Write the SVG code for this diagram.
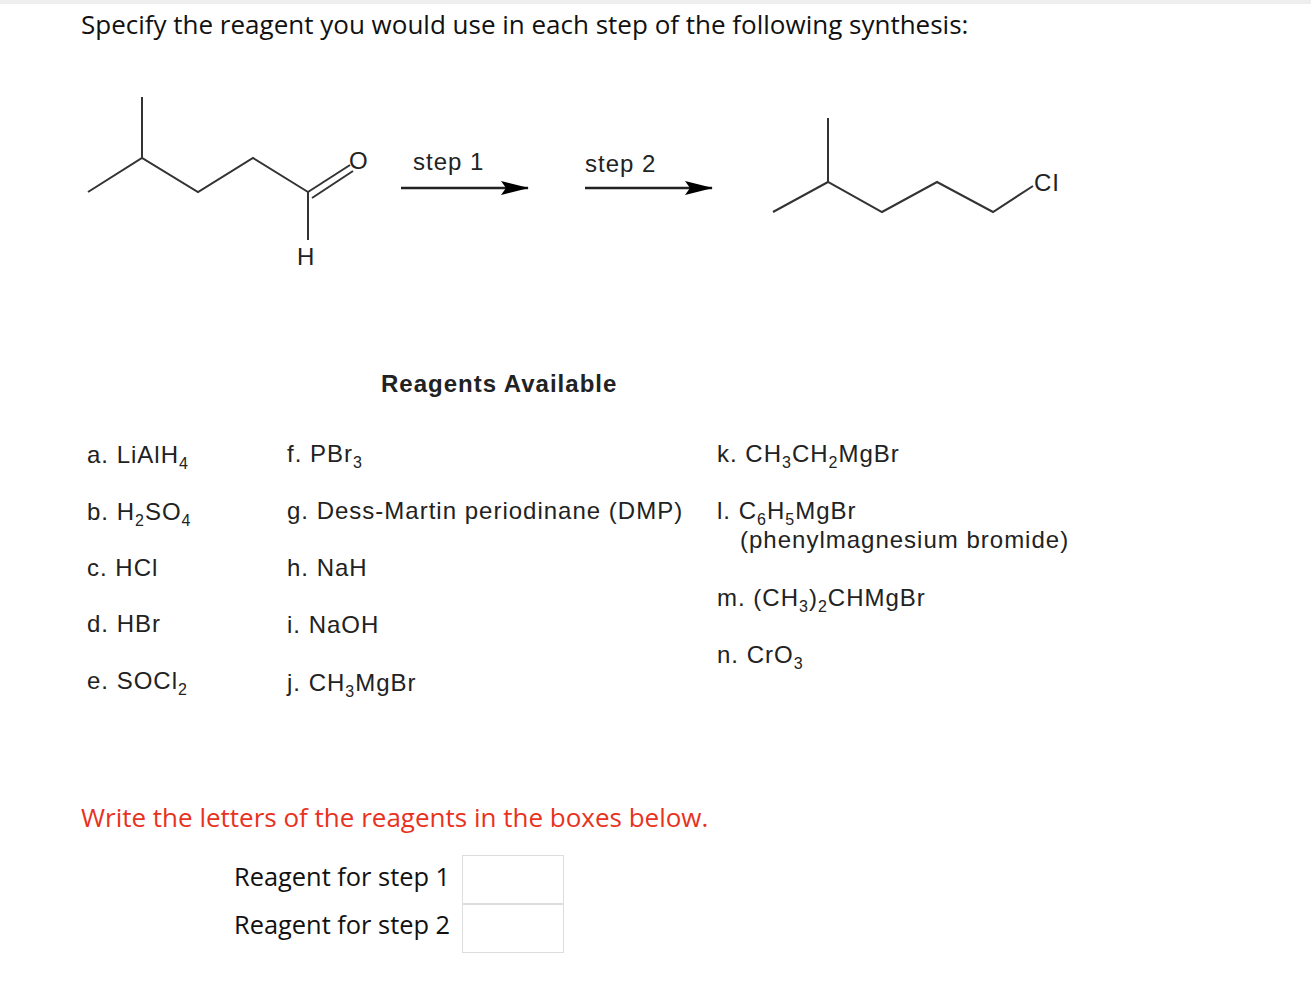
<svg xmlns="http://www.w3.org/2000/svg" width="1311" height="997" viewBox="0 0 1311 997">
<defs>
<marker id="a2" markerWidth="28" markerHeight="14" refX="27" refY="7" orient="auto" markerUnits="userSpaceOnUse"><path d="M0,0 L28,7 L0,14 L5,7 Z" fill="#000"/></marker></defs>
<style>
.o{font-family:"Open Sans",sans-serif;font-size:26px;fill:#111}
.r{font-family:"Liberation Sans",Arial,sans-serif;font-size:24px;fill:#222;letter-spacing:1px}
.s{font-size:16px}
.b{stroke:#333;stroke-width:2;fill:none}
</style>
<rect width="1311" height="997" fill="#fff"/>
<rect width="1311" height="4" fill="#eee"/>
<text class="o" x="81" y="34">Specify the reagent you would use in each step of the following synthesis:</text>
<g id="reactant">
<polyline class="b" points="88,192 142,158 198,192 253,158 308,192"/>
<line class="b" x1="142" y1="158" x2="142" y2="97"/>
<line class="b" x1="308" y1="192" x2="350" y2="165"/>
<line class="b" x1="312" y1="198" x2="353" y2="171"/>
<line class="b" x1="308" y1="192" x2="308" y2="240"/>
<text class="r" x="349" y="169" font-size="26" letter-spacing="0">O</text>
<text class="r" x="297" y="265" font-size="24" letter-spacing="0">H</text>
</g>
<g id="connectors">
<line x1="401" y1="188" x2="528" y2="188" stroke="#222" stroke-width="2.5" marker-end="url(#a2)"/>
<line x1="585" y1="188" x2="712" y2="188" stroke="#222" stroke-width="2.5" marker-end="url(#a2)"/>
</g>
<text class="r" x="413" y="170" font-size="29">step 1</text>
<text class="r" x="585" y="172" font-size="29">step 2</text>
<g id="product">
<polyline class="b" points="773,212 828,182 882,212 937,182 993,212 1033,186"/>
<line class="b" x1="828" y1="182" x2="828" y2="118"/>
<text class="r" x="1034" y="191" font-size="24" letter-spacing="0">CI</text>
</g>
<text class="r" x="381" y="392" font-weight="bold">Reagents Available</text>
<g class="r">
<text x="87" y="463">a. LiAlH<tspan class="s" dy="6">4</tspan></text>
<text x="87" y="520">b. H<tspan class="s" dy="6">2</tspan><tspan dy="-6">SO</tspan><tspan class="s" dy="6">4</tspan></text>
<text x="87" y="576">c. HCl</text>
<text x="87" y="632">d. HBr</text>
<text x="87" y="689">e. SOCl<tspan class="s" dy="6">2</tspan></text>
<text x="287" y="462">f. PBr<tspan class="s" dy="6">3</tspan></text>
<text x="287" y="519">g. Dess-Martin periodinane (DMP)</text>
<text x="287" y="576">h. NaH</text>
<text x="287" y="633">i. NaOH</text>
<text x="287" y="691">j. CH<tspan class="s" dy="6">3</tspan><tspan dy="-6">MgBr</tspan></text>
<text x="717" y="462">k. CH<tspan class="s" dy="6">3</tspan><tspan dy="-6">CH</tspan><tspan class="s" dy="6">2</tspan><tspan dy="-6">MgBr</tspan></text>
<text x="717" y="519">l. C<tspan class="s" dy="6">6</tspan><tspan dy="-6">H</tspan><tspan class="s" dy="6">5</tspan><tspan dy="-6">MgBr</tspan></text>
<text x="740" y="548">(phenylmagnesium bromide)</text>
<text x="717" y="606">m. (CH<tspan class="s" dy="6">3</tspan><tspan dy="-6">)</tspan><tspan class="s" dy="6">2</tspan><tspan dy="-6">CHMgBr</tspan></text>
<text x="717" y="663">n. CrO<tspan class="s" dy="6">3</tspan></text>
</g>
<text class="o" x="81" y="827" style="fill:#e8321e">Write the letters of the reagents in the boxes below.</text>
<text class="o" x="234" y="886" font-size="25.4" style="font-size:25.4px">Reagent for step 1</text>
<text class="o" x="234" y="934" style="font-size:25.4px">Reagent for step 2</text>
<g id="boxes" fill="#fff" stroke="#ddd" stroke-width="1">
<rect x="462.5" y="855.5" width="101" height="48"/>
<rect x="462.5" y="904.5" width="101" height="48"/>
</g>
</svg>
